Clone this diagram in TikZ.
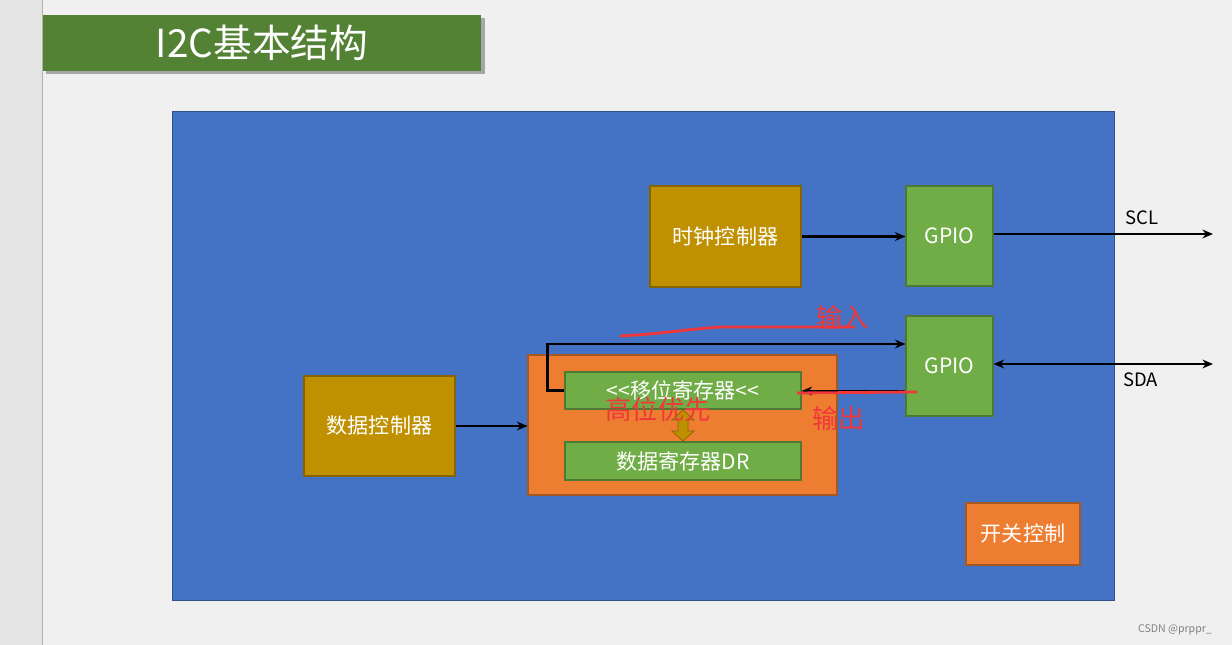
\documentclass[tikz,border=0pt]{standalone}
\usepackage{fontspec}
\setmainfont{Noto Sans CJK SC}
\usetikzlibrary{arrows.meta}
\definecolor{bgc}{HTML}{F0F0F0}
\definecolor{strip}{HTML}{E4E4E4}
\definecolor{ttl}{HTML}{548235}
\definecolor{blu}{HTML}{4472C4}
\definecolor{gold}{HTML}{BF9000}
\definecolor{grn}{HTML}{70AD47}
\definecolor{org}{HTML}{ED7D31}
\definecolor{redm}{HTML}{F0383C}
\tikzset{
 box/.style={draw=#1!70!black, line width=0.6pt, fill=#1, text=white, font=\fontsize{12}{14}\selectfont},
 wire/.style={line width=1.3pt, -{Stealth[length=6pt,width=5pt]}},
 redl/.style={redm, line width=1.6pt},
 redt/.style={text=redm, font=\fontsize{15}{17}\selectfont, inner sep=0pt}
}
\begin{document}
\begin{tikzpicture}[x=0.02cm,y=-0.02cm]
\useasboundingbox (0,0) rectangle (1232,645);
\fill[bgc] (0,0) rectangle (1232,645);
\fill[strip] (0,0) rectangle (42,645);
\draw[gray!60] (42,0) -- (42,645);
% title
\fill[black!35] (46,18) rectangle (485,74);
\node[fill=ttl, minimum width=438*0.02cm, minimum height=56*0.02cm, anchor=north west, inner sep=0pt] (title) at (43,15) {};
\node[text=white, font=\fontsize{22}{24}\selectfont] (tt) at (262,43) {I2C基本结构};
% main
\draw[fill=blu, draw=blu!70!black] (172,111) rectangle (1114,600);
\coordinate (sclend) at (1213,234);
\coordinate (sdaend) at (1213,364);
\node[box=gold, minimum width=151*0.02cm, minimum height=101*0.02cm] (clk) at (725.5,236.5) {时钟控制器};
\node[box=grn, minimum width=87*0.02cm, minimum height=100*0.02cm] (g1) at (949.5,236) {GPIO};
\node[box=grn, minimum width=87*0.02cm, minimum height=100*0.02cm] (g2) at (949.5,366) {GPIO};
\node[box=gold, minimum width=151*0.02cm, minimum height=100*0.02cm] (dc) at (379.5,426) {数据控制器};
\node[box=org, minimum width=309*0.02cm, minimum height=140*0.02cm] (ob) at (682.5,425) {};
\node[box=grn, minimum width=236*0.02cm, minimum height=37*0.02cm, inner sep=0pt] (sr) at (683,390.5) {{<}{<}移位寄存器{<}{<}};
\node[box=grn, minimum width=236*0.02cm, minimum height=38*0.02cm, inner sep=0pt] (dr) at (683,461) {数据寄存器DR};
\node[box=org, minimum width=114*0.02cm, minimum height=62*0.02cm] (sw) at (1023,534) {开关控制};
\node[font=\fontsize{10.5}{12}\selectfont, anchor=south west, inner sep=0pt] (scl) at (1125,225) {SCL};
\node[font=\fontsize{10.5}{12}\selectfont, anchor=north west, inner sep=0pt] (sda) at (1123,372) {SDA};
\draw[wire] (clk.east) -- (clk.east -| g1.west);
\draw[wire] (g1.east |- sclend) -- (sclend);
\draw[line width=1.3pt, {Stealth[length=6pt,width=5pt]}-{Stealth[length=6pt,width=5pt]}] (g2.east |- sdaend) -- (sdaend);
\draw[wire] (dc.east) -- (dc.east -| ob.west);
\draw[wire] (sr.west) -- ++(-17,0) |- (g2.west |- 0,344);
\draw[wire] (g2.west |- 0,391) -- (sr.east |- 0,391);
\draw[fill=gold, draw=gold!70!black] (683,410) -- (694,420) -- (688,420) -- (688,431) -- (694,431) -- (683,441) -- (672,431) -- (678,431) -- (678,420) -- (672,420) -- cycle;
\coordinate (da) at (683,425);
% red annotations
\draw[redl] (620,336) .. controls (660,334) and (680,330) .. (720,327) -- (855,327);
\node[redt, anchor=west] (in) at (816,317) {输入};
\draw[redl] (797,393) -- (917,392);
\node[redt, anchor=west] (out) at (812,418) {输出};
\node[redt] (hp) at (658,409) {高位优先};
\node[text=gray, font=\fontsize{6}{7}\selectfont, anchor=east] (csdn) at (1218,630) {CSDN @prppr\_};
\end{tikzpicture}
\end{document}
